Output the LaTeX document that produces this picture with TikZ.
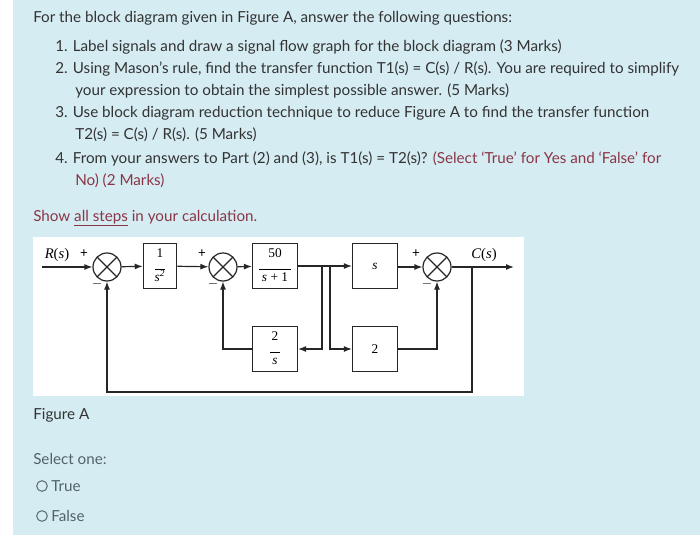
\documentclass[tikz,border=0pt]{standalone}
\usepackage{fontspec}
\setmainfont{Lato}
\newfontfamily\dserif{Liberation Serif}
\usetikzlibrary{arrows.meta}
\definecolor{bgblue}{HTML}{D5ECF2}
\definecolor{txt}{HTML}{333333}
\definecolor{redt}{HTML}{8A3646}
\definecolor{selc}{HTML}{4F6468}
\begin{document}
\begin{tikzpicture}[x=0.75pt,y=-0.75pt,
  t/.style={anchor=base west,inner sep=0pt,text=txt,font=\fontsize{11.4}{13}\selectfont},
  blk/.style={draw=black!85,line width=0.9pt,minimum width=33.75pt,minimum height=33.75pt,inner sep=0pt,fill=white,font=\dserif\fontsize{10}{12}\selectfont},
  sumj/.style={draw=black!85,line width=0.9pt,circle,minimum size=21pt,inner sep=0pt,
     path picture={\draw[line width=0.9pt,black!85] (path picture bounding box.south west)--(path picture bounding box.north east) (path picture bounding box.north west)--(path picture bounding box.south east);}},
  ln/.style={line width=0.9pt,black!85},
  ar/.style={ln,-{Latex[length=6pt,width=4.5pt]}},
  dl/.style={inner sep=0pt,font=\dserif\fontsize{11}{12}\selectfont},
  sg/.style={inner sep=0pt,font=\fontsize{10}{11}\selectfont}]
\useasboundingbox (0,0) rectangle (700,539);
\fill[white] (0,0) rectangle (700,539);
\fill[bgblue] (13,0) rectangle (700,535);
\fill[white] (33,237) rectangle (524,396);

\node[t] (l0) at (33,22) {For the block diagram given in Figure A, answer the following questions:};
\node[t] (n1) at (55,51) {1. Label signals and draw a signal flow graph for the block diagram (3 Marks)};
\node[t] (n2) at (55,73) {2. Using Mason’s rule, find the transfer function T1(s) = C(s) / R(s). You are required to simplify};
\node[t] (n2b) at (75,95) {your expression to obtain the simplest possible answer. (5 Marks)};
\node[t] (n3) at (55,117) {3. Use block diagram reduction technique to reduce Figure A to find the transfer function};
\node[t] (n3b) at (75,139) {T2(s) = C(s) / R(s). (5 Marks)};
\node[t] (n4) at (55,163) {4. From your answers to Part (2) and (3), is T1(s) = T2(s)? \textcolor{redt}{(Select ‘True’ for Yes and ‘False’ for}};
\node[t,text=redt] (n4b) at (75,185) {No) (2 Marks)};
\node[t,text=redt] (sh) at (33,221) {Show \underline{all steps} in your calculation.};
\node[t] (fa) at (33,419) {Figure A};
\node[t,text=selc] (so) at (33,464) {Select one:};
\node[circle,draw=selc,line width=0.7pt,minimum size=8pt,inner sep=0pt] (r1) at (42,486) {};
\node[t,text=selc] (tr) at (51,491) {True};
\node[circle,draw=selc,line width=0.7pt,minimum size=8pt,inner sep=0pt] (r2) at (42,516) {};
\node[t,text=selc] (fl) at (51,521) {False};

% diagram
\coordinate (in) at (42,267);
\node[sumj] (s1) at (107,267) {};
\node[blk,minimum width=25pt] (b1) at (160,266) {\begin{tabular}{@{}c@{}}1\\[-3pt]\rule{7pt}{0.5pt}\\[-3pt]\itshape s\textsuperscript{2}\end{tabular}};
\node[sumj] (s2) at (223,267) {};
\node[blk] (b2) at (275,266) {\begin{tabular}{@{}c@{}}50\\[-3pt]\rule{24pt}{0.5pt}\\[-3pt]\itshape s\upshape\ + 1\end{tabular}};
\node[blk] (b3) at (375,266) {\itshape s};
\node[sumj] (s3) at (437,267) {};
\node[blk] (b4) at (275,349) {\begin{tabular}{@{}c@{}}2\\[-3pt]\rule{7pt}{0.5pt}\\[-3pt]\itshape s\end{tabular}};
\node[blk] (b5) at (375,349) {2};
\coordinate (out) at (514,267);
\coordinate (p1) at (322,267);
\coordinate (p2) at (330,267);
\coordinate (p3) at (472,267);
\coordinate (fb) at (107,392);

\draw[ar] (in) -- (s1);
\draw[ar] (s1) -- (b1);
\draw[ar] (b1) -- (s2);
\draw[ar] (s2) -- (b2);
\draw[ar] (b2) -- (b3.west|-b2);
\draw[ar] (b3.east|-s3) -- (s3);
\draw[ar] (s3) -- (out);
\draw[ar] (p1) |- (b4.east);
\draw[ar] (b4.west) -| (s2.south);
\draw[ar] (p2) |- (b5.west);
\draw[ar] (b5.east) -| (s3.south);
\draw[ar] (p3) |- (fb) -- (s1.south);

\node[dl] (rl) at (57,255) {\itshape R\/\upshape(\itshape s\upshape)};
\node[dl] (cl) at (484,255) {\itshape C\/\upshape(\itshape s\upshape)};
\node[sg] (pa) at (84,254) {+};
\node[sg] (pb) at (202,254) {+};
\node[sg] (pc) at (416,254) {+};
\node[sg] (ma) at (97,284) {$-$};
\node[sg] (mb) at (213,284) {$-$};
\node[sg] (mc) at (427,284) {$-$};
\end{tikzpicture}
\end{document}
